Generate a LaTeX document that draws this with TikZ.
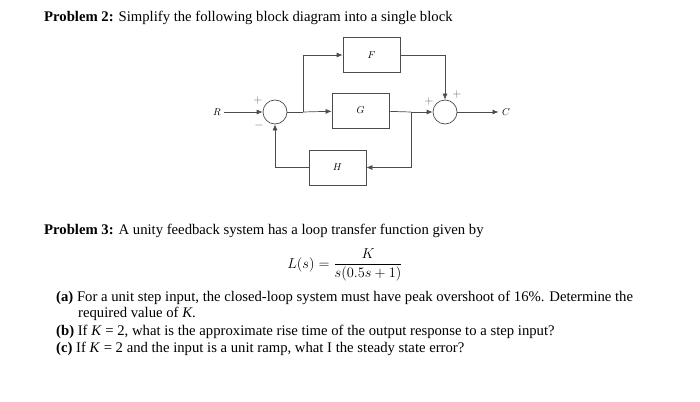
\documentclass[tikz,border=0pt]{standalone}
\usepackage{fontspec}
\setmainfont{Liberation Serif}
\usetikzlibrary{arrows.meta}
\begin{document}
\begin{tikzpicture}[x=1pt,y=-1pt,
  blk/.style={draw=black!70,line width=0.7pt,minimum width=57pt,minimum height=35pt,inner sep=0pt,font=\normalsize\itshape},
  sumj/.style={draw=black!70,line width=0.7pt,circle,minimum size=24pt,inner sep=0pt},
  wire/.style={draw=black!70,line width=0.7pt},
  arr/.style={wire,-{Latex[length=6pt,width=5pt]}},
  txt/.style={anchor=west,inner sep=0pt,font=\fontsize{14.7}{17}\selectfont},
  sg/.style={font=\large,inner sep=0pt,text=black!60}]
\useasboundingbox (0,0) rectangle (700,401);
\node[txt] (t1) at (44,18) {\textbf{Problem 2:} Simplify the following block diagram into a single block};
\node[sumj] (s1) at (275,112) {};
\node[sumj] (s2) at (445,112) {};
\node[blk] (F) at (371.5,55) {$F$};
\node[blk] (G) at (360.5,110.5) {$G$};
\node[blk] (H) at (337.5,167.5) {$H$};
\node[font=\normalsize\itshape] (R) at (217,112) {$R$};
\node[font=\normalsize\itshape] (C) at (506,112) {$C$};
\coordinate (j1) at (303,112);
\coordinate (j2) at (411,112);
\draw[arr] (R) -- (s1);
\draw[wire] (s1) -- (j1);
\draw[arr] (j1) -- (G);
\draw[arr] (j1) |- (F);
\draw[arr] (F.east) -| (s2.north);
\draw[wire] (G) -- (j2);
\draw[arr] (j2) -- (s2);
\draw[arr] (j2) |- (H);
\draw[arr] (H.west) -| (s1.south);
\draw[arr] (s2) -- (C);
\node[sg] (p1) at (258,100) {$+$};
\node[sg] (m1) at (259,125) {$-$};
\node[sg] (p2) at (429,101) {$+$};
\node[sg] (p3) at (457,95) {$+$};
\node[txt] (t2) at (44,231) {\textbf{Problem 3:} A unity feedback system has a loop transfer function given by};
\node[inner sep=0pt,font=\fontsize{14.7}{17}\selectfont] (eq) at (345,265) {$\displaystyle L(s)=\frac{K}{s(0.5s+1)}$};
\node[txt] (a1) at (56,298) {\textbf{(a)} For a unit step input, the closed-loop system must have peak overshoot of 16\%. Determine the};
\node[txt] (a2) at (78,314) {required value of \textit{K}.};
\node[txt] (b) at (56,332) {\textbf{(b)} If \textit{K} = 2, what is the approximate rise time of the output response to a step input?};
\node[txt] (c) at (56,349) {\textbf{(c)} If \textit{K} = 2 and the input is a unit ramp, what I the steady state error?};
\end{tikzpicture}
\end{document}
